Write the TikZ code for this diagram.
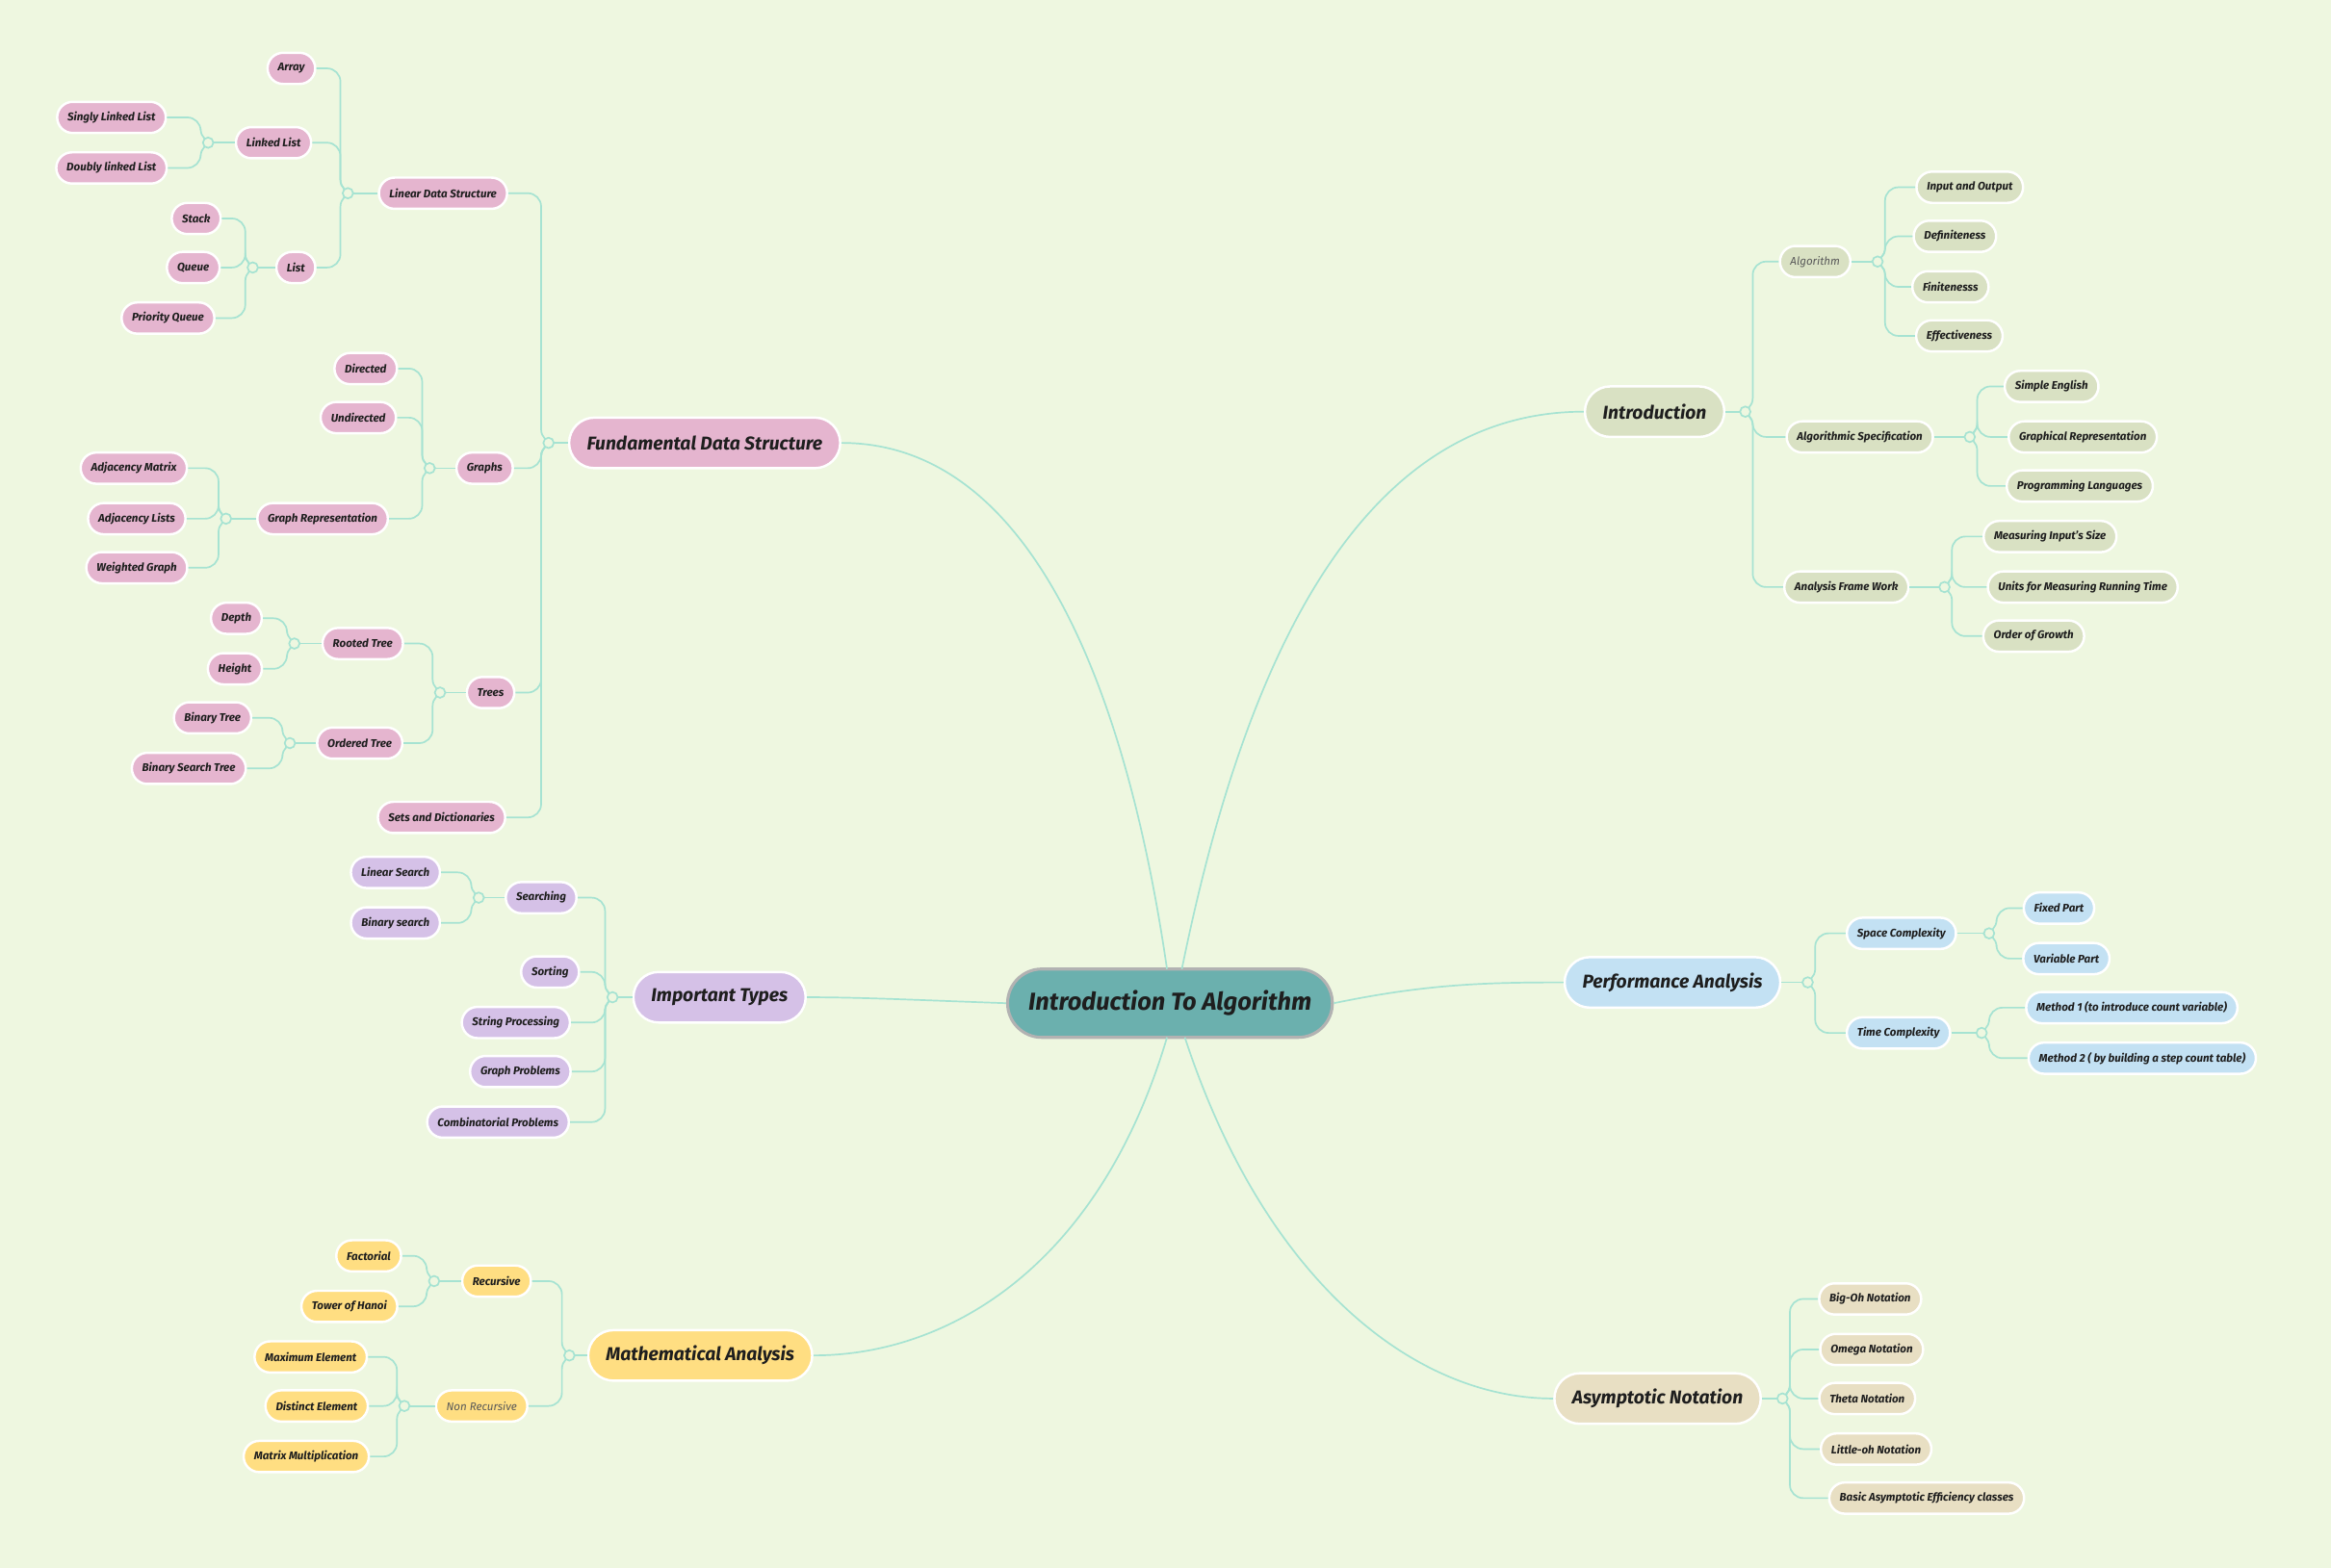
\documentclass[tikz,border=0pt]{standalone}
\usepackage{fontspec}
\setmainfont{Fira Sans}
\definecolor{bg}{HTML}{EEF7E0}
\definecolor{ln}{HTML}{A6E3D2}
\definecolor{cpk}{HTML}{E5B5CF}
\definecolor{cgr}{HTML}{D9E1C3}
\definecolor{cbl}{HTML}{C3E1F3}
\definecolor{cpu}{HTML}{D5C1E7}
\definecolor{cye}{HTML}{FFDE82}
\definecolor{ctn}{HTML}{E8DFC3}
\definecolor{cro}{HTML}{6BB0AE}
\definecolor{tx}{HTML}{1E1E1E}
\tikzset{
 nd/.style={draw=white,line width=1.6pt,rounded corners=10.5pt,minimum height=21pt,inner xsep=7pt,inner ysep=2pt,font=\fontsize{7.5}{9}\selectfont\bfseries\itshape,text=tx},
 mn/.style={nd,rounded corners=17pt,minimum height=34pt,inner xsep=12pt,font=\fontsize{12.5}{14}\selectfont\bfseries\itshape},
 rt/.style={draw=gray!60,line width=2pt,fill=cro,rounded corners=23pt,minimum height=46pt,inner xsep=14pt,font=\fontsize{16.5}{18}\selectfont\bfseries\itshape,text=tx},
 pk/.style={nd,fill=cpk}, gr/.style={nd,fill=cgr}, bl/.style={nd,fill=cbl},
 pu/.style={nd,fill=cpu}, ye/.style={nd,fill=cye}, tn/.style={nd,fill=ctn},
 lk/.style={draw=ln,line width=1.1pt},
 jn/.style={circle,draw=ln,line width=1.1pt,fill=bg,inner sep=0pt,minimum size=7pt},
 lite/.style={text=gray!70!black,font=\fontsize{7.5}{9}\selectfont\itshape}
}
\newcommand\rk[2]{\draw[lk,rounded corners=9pt] (#1.center) -- ++(5,0) |- (#2.west);}
\newcommand\lkk[2]{\draw[lk,rounded corners=9pt] (#1.center) -- ++(-5,0) |- (#2.east);}
\begin{document}
\begin{tikzpicture}[x=1pt,y=-1pt]
\fill[bg] (0,0) rectangle (1568,1055);
\useasboundingbox (0,0) rectangle (1568,1055);
% root
\node[rt] (root) at (787,675) {Introduction To Algorithm};
% main nodes
\node[mn,fill=cgr] (intro) at (1113,277) {Introduction};
\node[mn,fill=cbl] (perf) at (1125,661) {Performance Analysis};
\node[mn,fill=ctn] (asym) at (1115,941) {Asymptotic Notation};
\node[mn,fill=cpk] (fds) at (474,298) {Fundamental Data Structure};
\node[mn,fill=cpu] (imp) at (484,671) {Important Types};
\node[mn,fill=cye] (math) at (471,912) {Mathematical Analysis};
% root links
\draw[lk] (785,652) .. controls (760,480) and (700,298) .. (fds.east);
\draw[lk] (795,652) .. controls (830,480) and (900,277) .. (intro.west);
\draw[lk] (root.east) .. controls (960,662) and (1000,661) .. (perf.west);
\draw[lk] (root.west) .. controls (620,673) and (580,671) .. (imp.east);
\draw[lk] (785,698) .. controls (740,850) and (640,912) .. (math.east);
\draw[lk] (797,698) .. controls (850,860) and (950,941) .. (asym.west);
% ---------- Introduction
\node[gr,lite] (alg) at (1221,176) {Algorithm};
\node[gr] (aspec) at (1251,294) {Algorithmic Specification};
\node[gr] (afw) at (1242,395) {Analysis Frame Work};
\node[gr] (io) at (1325,126) {Input and Output};
\node[gr] (def) at (1315,159) {Definiteness};
\node[gr] (fin) at (1312,193) {Finitenesss};
\node[gr] (eff) at (1318,226) {Effectiveness};
\node[gr] (se) at (1380,260) {Simple English};
\node[gr] (grr) at (1401,294) {Graphical Representation};
\node[gr] (pl) at (1399,327) {Programming Languages};
\node[gr] (mis) at (1379,361) {Measuring Input's Size};
\node[gr] (umr) at (1401,395) {Units for Measuring Running Time};
\node[gr] (oog) at (1368,428) {Order of Growth};
\coordinate (jI) at (1174,277);
\coordinate (jA) at (1263,176);
\coordinate (jS) at (1325,294);
\coordinate (jF) at (1308,395);
\rk{jI}{alg}\rk{jI}{aspec}\rk{jI}{afw}
\rk{jA}{io}\rk{jA}{def}\rk{jA}{fin}\rk{jA}{eff}
\rk{jS}{se}\rk{jS}{grr}\rk{jS}{pl}
\rk{jF}{mis}\rk{jF}{umr}\rk{jF}{oog}
\draw[lk] (intro.east)--(jI); \draw[lk] (alg.east)--(jA); \draw[lk] (aspec.east)--(jS); \draw[lk] (afw.east)--(jF);
% ---------- Performance
\node[bl] (sc) at (1279,628) {Space Complexity};
\node[bl] (tc) at (1277,695) {Time Complexity};
\node[bl] (fp) at (1385,611) {Fixed Part};
\node[bl] (vp) at (1390,645) {Variable Part};
\node[bl] (m1) at (1434,678) {Method 1 (to introduce count variable)};
\node[bl] (m2) at (1441,712) {Method 2 ( by building a step count table)};
\coordinate (jP) at (1216,661);
\coordinate (jSC) at (1338,628);
\coordinate (jTC) at (1333,695);
\rk{jP}{sc}\rk{jP}{tc}\rk{jSC}{fp}\rk{jSC}{vp}\rk{jTC}{m1}\rk{jTC}{m2}
\draw[lk] (perf.east)--(jP); \draw[lk] (sc.east)--(jSC); \draw[lk] (tc.east)--(jTC);
% ---------- Asymptotic
\node[tn] (bo) at (1258,874) {Big-Oh Notation};
\node[tn] (om) at (1259,908) {Omega Notation};
\node[tn] (th) at (1256,941) {Theta Notation};
\node[tn] (lo) at (1262,975) {Little-oh Notation};
\node[tn] (ba) at (1296,1008) {Basic Asymptotic Efficiency classes};
\coordinate (jAs) at (1199,941);
\rk{jAs}{bo}\rk{jAs}{om}\rk{jAs}{th}\rk{jAs}{lo}\rk{jAs}{ba}
\draw[lk] (asym.east)--(jAs);
% ---------- Fundamental
\node[pk] (lds) at (298,130) {Linear Data Structure};
\node[pk] (arr) at (196,46) {Array};
\node[pk] (ll) at (184,96) {Linked List};
\node[pk] (sll) at (75,79) {Singly Linked List};
\node[pk] (dll) at (75,113) {Doubly linked List};
\node[pk] (lst) at (199,180) {List};
\node[pk] (stk) at (132,147) {Stack};
\node[pk] (que) at (130,180) {Queue};
\node[pk] (pq) at (113,214) {Priority Queue};
\node[pk] (gph) at (326,315) {Graphs};
\node[pk] (dir) at (246,248) {Directed};
\node[pk] (und) at (241,281) {Undirected};
\node[pk] (grep) at (217,349) {Graph Representation};
\node[pk] (am) at (90,315) {Adjacency Matrix};
\node[pk] (al) at (92,349) {Adjacency Lists};
\node[pk] (wg) at (92,382) {Weighted Graph};
\node[pk] (trs) at (330,466) {Trees};
\node[pk] (rtt) at (244,433) {Rooted Tree};
\node[pk] (dep) at (159,416) {Depth};
\node[pk] (hei) at (158,450) {Height};
\node[pk] (ort) at (242,500) {Ordered Tree};
\node[pk] (bt) at (143,483) {Binary Tree};
\node[pk] (bst) at (127,517) {Binary Search Tree};
\node[pk] (sd) at (297,550) {Sets and Dictionaries};
\coordinate (jFD) at (369,298);
\coordinate (jL) at (234,130);
\coordinate (jLL) at (140,96);
\coordinate (jLs) at (170,180);
\coordinate (jG) at (289,315);
\coordinate (jGR) at (152,349);
\coordinate (jT) at (296,466);
\coordinate (jRT) at (198,433);
\coordinate (jOT) at (195,500);
\lkk{jFD}{lds}\lkk{jFD}{gph}\lkk{jFD}{trs}\lkk{jFD}{sd}
\lkk{jL}{arr}\lkk{jL}{ll}\lkk{jL}{lst}
\lkk{jLL}{sll}\lkk{jLL}{dll}
\lkk{jLs}{stk}\lkk{jLs}{que}\lkk{jLs}{pq}
\lkk{jG}{dir}\lkk{jG}{und}\lkk{jG}{grep}
\lkk{jGR}{am}\lkk{jGR}{al}\lkk{jGR}{wg}
\lkk{jT}{rtt}\lkk{jT}{ort}
\lkk{jRT}{dep}\lkk{jRT}{hei}
\lkk{jOT}{bt}\lkk{jOT}{bst}
\draw[lk] (fds.west)--(jFD); \draw[lk] (lds.west)--(jL); \draw[lk] (ll.west)--(jLL);
\draw[lk] (lst.west)--(jLs); \draw[lk] (gph.west)--(jG); \draw[lk] (grep.west)--(jGR);
\draw[lk] (trs.west)--(jT); \draw[lk] (rtt.west)--(jRT); \draw[lk] (ort.west)--(jOT);
% ---------- Important types
\node[pu] (srch) at (364,604) {Searching};
\node[pu] (ls) at (266,587) {Linear Search};
\node[pu] (bs) at (266,621) {Binary search};
\node[pu] (srt) at (370,654) {Sorting};
\node[pu] (sp) at (347,688) {String Processing};
\node[pu] (gp) at (350,721) {Graph Problems};
\node[pu] (cp) at (335,755) {Combinatorial Problems};
\coordinate (jIm) at (412,671);
\coordinate (jSr) at (322,604);
\lkk{jIm}{srch}\lkk{jIm}{srt}\lkk{jIm}{sp}\lkk{jIm}{gp}\lkk{jIm}{cp}
\lkk{jSr}{ls}\lkk{jSr}{bs}
\draw[lk] (imp.west)--(jIm); \draw[lk] (srch.west)--(jSr);
% ---------- Mathematical
\node[ye] (rec) at (334,862) {Recursive};
\node[ye] (fac) at (248,845) {Factorial};
\node[ye] (toh) at (235,879) {Tower of Hanoi};
\node[ye,lite] (nrec) at (324,946) {Non Recursive};
\node[ye] (me) at (209,913) {Maximum Element};
\node[ye] (de) at (213,946) {Distinct Element};
\node[ye] (mm) at (206,980) {Matrix Multiplication};
\coordinate (jM) at (383,912);
\coordinate (jR) at (292,862);
\coordinate (jN) at (272,946);
\lkk{jM}{rec}\lkk{jM}{nrec}
\lkk{jR}{fac}\lkk{jR}{toh}
\lkk{jN}{me}\lkk{jN}{de}\lkk{jN}{mm}
\draw[lk] (math.west)--(jM); \draw[lk] (rec.west)--(jR); \draw[lk] (nrec.west)--(jN);
% junction circles
\foreach \j in {jI,jA,jS,jF,jP,jSC,jTC,jAs,jFD,jL,jLL,jLs,jG,jGR,jT,jRT,jOT,jIm,jSr,jM,jR,jN}
  \node[jn] at (\j) {};
\end{tikzpicture}
\end{document}
